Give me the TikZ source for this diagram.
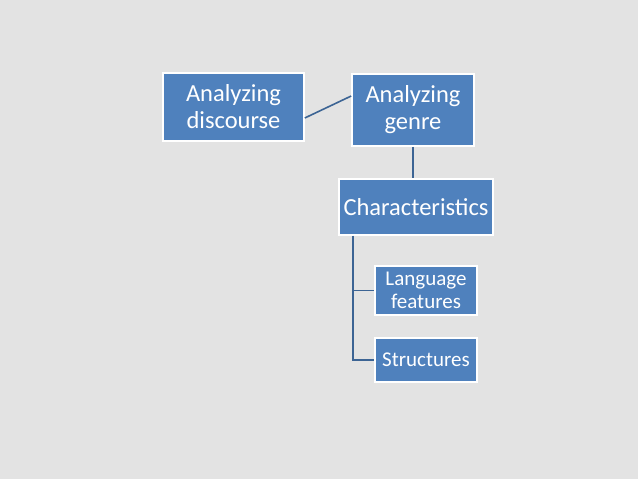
\documentclass[tikz,border=0pt]{standalone}
\usepackage{fontspec}
\setmainfont{Carlito}
\definecolor{boxblue}{HTML}{4F81BD}
\definecolor{linkblue}{HTML}{3C6494}
\definecolor{backgrey}{HTML}{E3E3E3}
\tikzset{
  box/.style={draw=white, line width=1.6pt, fill=boxblue, text=white, align=center, inner sep=0pt},
  link/.style={draw=linkblue, line width=1.6pt}
}
\begin{document}
\begin{tikzpicture}[x=1pt, y=-1pt]
  \fill[backgrey] (0,0) rectangle (638,479);
  \useasboundingbox (0,0) rectangle (638,479);
  % boxes
  \node[box, minimum width=141pt, minimum height=68pt, font=\fontsize{24.5}{27}\selectfont] (disc) at (233.5,107) {Analyzing\\discourse};
  \node[box, minimum width=122pt, minimum height=72pt, font=\fontsize{24.5}{27}\selectfont] (genre) at (413,110) {Analyzing\\genre};
  \node[box, minimum width=154pt, minimum height=56pt, font=\fontsize{24.5}{27}\selectfont] (char) at (416,207) {Characteristics};
  \node[box, minimum width=102pt, minimum height=49pt, font=\fontsize{21}{22.5}\selectfont] (lang) at (426,290.5) {Language\\features};
  \node[box, minimum width=102pt, minimum height=44pt, font=\fontsize{21}{22.5}\selectfont] (struc) at (426,360) {Structures};
  % links
  \draw[link] ([yshift=-11pt]disc.east) -- ([yshift=14pt]genre.west);
  \draw[link] (genre.south) -- (genre.south |- char.north);
  \coordinate (trunk) at ([xshift=15pt]char.south west);
  \draw[link] (trunk) |- (lang.west);
  \draw[link] (trunk) |- (struc.west);
\end{tikzpicture}
\end{document}
